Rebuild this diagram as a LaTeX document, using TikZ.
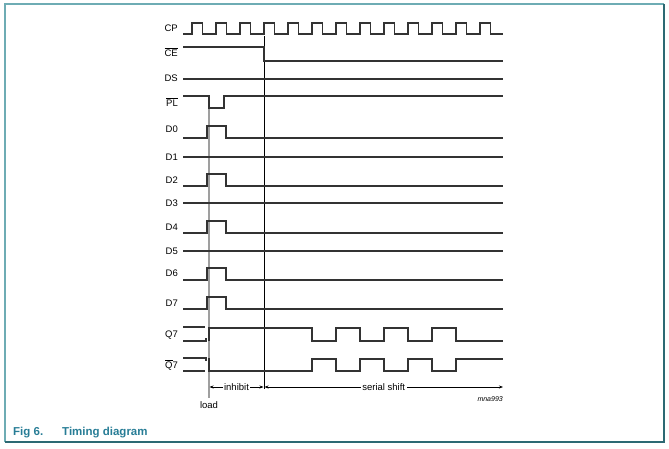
\documentclass[tikz,border=0pt]{standalone}
\usepackage{fontspec}
\setmainfont{Liberation Sans}
\usetikzlibrary{arrows.meta}
\definecolor{frameL}{RGB}{110,172,180}
\definecolor{frameD}{RGB}{45,105,115}
\definecolor{capcol}{RGB}{40,125,150}
\begin{document}
\begin{tikzpicture}[x=1pt,y=-1pt,
  sig/.style={line width=1.1pt,black!80,line join=miter},
  lbl/.style={anchor=base east,inner sep=0pt,font=\fontsize{9.5}{10}\selectfont},
  dim/.style={line width=0.6pt,{Stealth[length=4pt,width=3pt]}-{Stealth[length=4pt,width=3pt]}},
  dimtxt/.style={fill=white,inner sep=1.5pt,font=\fontsize{9.5}{10}\selectfont}]
\path[use as bounding box] (0,0) rectangle (669,449);
% frame
\draw[frameL,line width=1.2pt] (5,442) -- (5,4) -- (664,4);
\draw[frameD,line width=1.2pt] (664,4) -- (664,442) -- (5,442);
% guide lines
\draw[gray!75,line width=1.4pt] (209,102) -- (209,398);
\draw[black,line width=0.6pt] (264,36) -- (264,389);
% labels
\node[lbl] (lcp) at (178,31.5) {CP};
\node[lbl] (lce) at (178,56.5) {$\overline{\mbox{CE}}$};
\node[lbl] (lds) at (178,81.5) {DS};
\node[lbl] (lpl) at (178,106.5) {$\overline{\mbox{PL}}$};
\node[lbl] (ld0) at (178,132.5) {D0};
\node[lbl] (ld1) at (178,160.5) {D1};
\node[lbl] (ld2) at (178,183.5) {D2};
\node[lbl] (ld3) at (178,206.5) {D3};
\node[lbl] (ld4) at (178,230.5) {D4};
\node[lbl] (ld5) at (178,254.5) {D5};
\node[lbl] (ld6) at (178,276.5) {D6};
\node[lbl] (ld7) at (178,306.5) {D7};
\node[lbl] (lq7) at (178,337.5) {Q7};
\node[lbl] (lq7n) at (178,368.5) {$\overline{\mbox{Q}}$7};
% CP clock
\draw[sig] (183,34) foreach \k in {0,...,12} { -- ({192+24*\k},34) -- ({192+24*\k},23) -- ({202.5+24*\k},23) -- ({202.5+24*\k},34) } -- (503,34);
% CE
\draw[sig] (183,47) -- (264,47) -- (264,61) -- (503,61);
% DS
\draw[sig] (183,79) -- (503,79);
% PL
\draw[sig] (183,96) -- (209,96) -- (209,108) -- (224,108) -- (224,96) -- (503,96);
% data lines
\foreach \lo in {138,186,233,280,309}{
  \draw[sig] (183,\lo) -- (207,\lo) -- (207,\lo-12) -- (226,\lo-12) -- (226,\lo) -- (503,\lo);
}
\foreach \yy in {157,203,251}{
  \draw[sig] (183,\yy) -- (503,\yy);
}
% Q7
\draw[sig] (183,327) -- (205,327);
\draw[sig] (183,341) -- (206,341) -- (206,338);
\draw[sig] (209,341) -- (209,328) -- (312,328) -- (312,341) -- (336,341) -- (336,328) -- (360,328) -- (360,341) -- (384,341) -- (384,328) -- (408,328) -- (408,341) -- (432,341) -- (432,328) -- (456,328) -- (456,341) -- (503,341);
% Q7 bar
\draw[sig] (183,358) -- (206,358) -- (206,361);
\draw[sig] (183,371) -- (205,371);
\draw[sig] (209,358) -- (209,371) -- (312,371) -- (312,359) -- (336,359) -- (336,371) -- (360,371) -- (360,359) -- (384,359) -- (384,371) -- (408,371) -- (408,359) -- (432,359) -- (432,371) -- (456,371) -- (456,359) -- (503,359);
% dimension arrows
\coordinate (a1) at (209.5,387);
\coordinate (a2) at (263.5,387);
\coordinate (a3) at (264.5,387);
\coordinate (a4) at (503,387);
\draw[dim] (a1) -- (a2) node[midway,dimtxt] (tinh) {inhibit};
\draw[dim] (a3) -- (a4) node[midway,dimtxt] (tser) {serial shift};
\node[font=\fontsize{9.5}{10}\selectfont,inner sep=0pt] (tload) at (209,405) {load};
\node[font=\fontsize{7}{8}\selectfont\itshape,anchor=east,inner sep=0pt] (tmna) at (503,399) {mna993};
% caption
\node[anchor=base west,inner sep=0pt,text=capcol,font=\fontsize{11.5}{13}\selectfont\bfseries] (cap1) at (13,435) {Fig 6.};
\node[anchor=base west,inner sep=0pt,text=capcol,font=\fontsize{11.5}{13}\selectfont\bfseries] (cap2) at (62,435) {Timing diagram};
\end{tikzpicture}
\end{document}
